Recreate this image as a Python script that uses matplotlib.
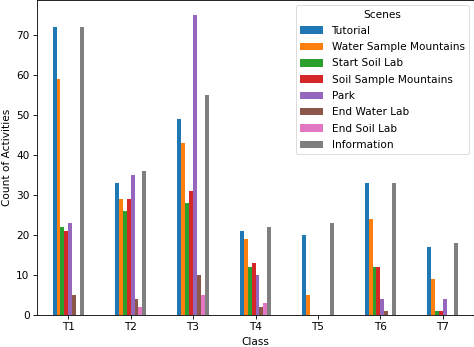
import matplotlib
matplotlib.use("Agg")
import matplotlib.pyplot as plt
import numpy as np

classes = ["T1", "T2", "T3", "T4", "T5", "T6", "T7"]
scenes = ["Tutorial", "Water Sample Mountains", "Start Soil Lab", "Soil Sample Mountains",
          "Park", "End Water Lab", "End Soil Lab", "Information"]
tutorial = [72, 33, 49, 21, 20, 33, 17]
water_sample_mountains = [59, 29, 43, 19, 5, 24, 9]
start_soil_lab = [22, 26, 28, 12, 0, 12, 1]
soil_sample_mountains = [21, 29, 31, 13, 0, 12, 1]
park = [23, 35, 75, 10, 0, 4, 4]
end_water_lab = [5, 4, 10, 2, 0, 1, 0]
end_soil_lab = [0, 2, 5, 3, 0, 0, 0]
information = [72, 36, 55, 22, 23, 33, 18]

series = [tutorial, water_sample_mountains, start_soil_lab, soil_sample_mountains,
          park, end_water_lab, end_soil_lab, information]
colors = ["#1f77b4", "#ff7f0e", "#2ca02c", "#d62728", "#9467bd", "#8c564b", "#e377c2", "#7f7f7f"]

s = 0.76
plt.rcParams.update({
    'font.size': 10 * s,
    'axes.linewidth': 0.8 * s,
    'xtick.major.size': 3.5 * s,
    'ytick.major.size': 3.5 * s,
    'xtick.major.width': 0.8 * s,
    'ytick.major.width': 0.8 * s,
    'xtick.major.pad': 3.5 * s,
    'ytick.major.pad': 3.5 * s,
    'axes.labelpad': 4.0 * s,
})
fig = plt.figure(figsize=(4.74, 3.47), dpi=100)
ax = fig.add_axes([37/474, 32/347, 1 - 37/474, 315/347])

n = len(series)
w = 0.5 / n
x = np.arange(len(classes))
for i, (name, vals, c) in enumerate(zip(scenes, series, colors)):
    ax.bar(x - 0.25 + w * (i + 0.5), vals, width=w, color=c, label=name)

ax.set_xlim(-0.5, len(classes) - 0.5)
ax.set_ylim(0, 78.75)
ax.set_xticks(x)
ax.set_xticklabels(classes)
ax.set_yticks(range(0, 80, 10))
ax.set_xlabel("Class")
ax.set_ylabel("Count of Activities")
leg = ax.legend(title="Scenes", loc="upper right", labelspacing=0.6,
                handlelength=2.2, borderaxespad=0.5)
leg.get_frame().set_linewidth(0.8 * s)

fig.savefig("out.png", dpi=100)
